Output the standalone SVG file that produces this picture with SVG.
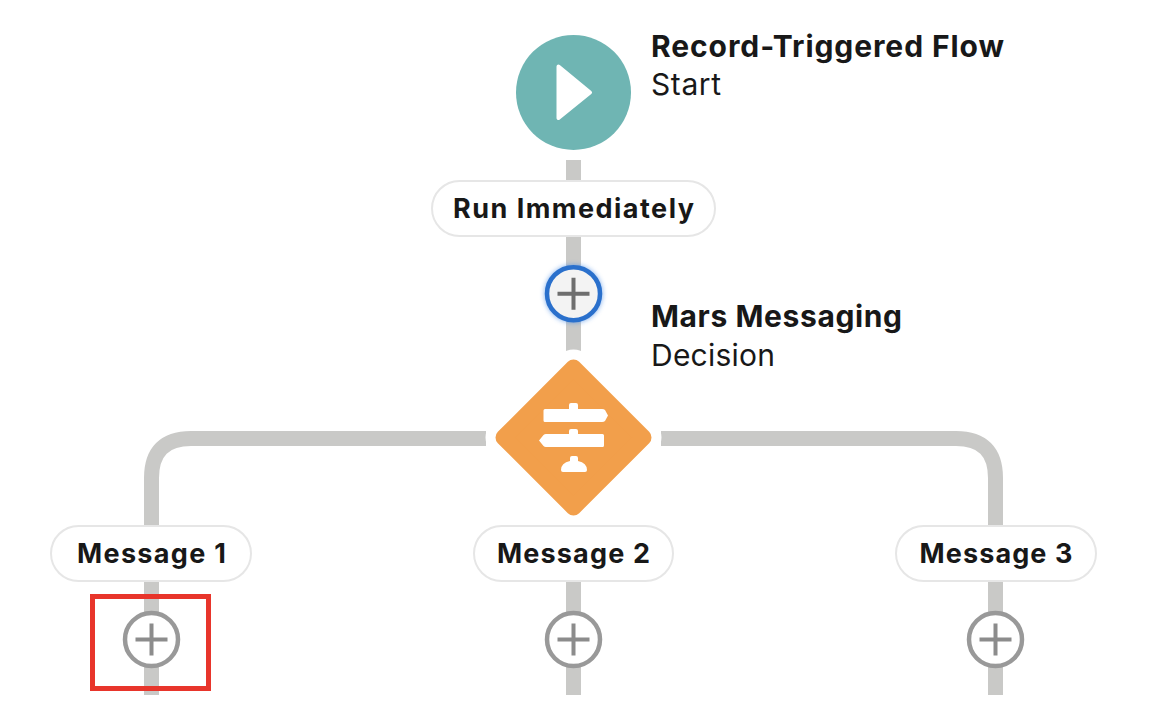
<svg xmlns="http://www.w3.org/2000/svg" width="1150" height="708" viewBox="0 0 1150 708">
<defs>
<filter id="glow" x="-30%" y="-30%" width="160%" height="160%"><feGaussianBlur stdDeviation="2.5"/></filter>
</defs>
<style>
text{font-family:"Inter","Liberation Sans",sans-serif;fill:#181818}
.t{font-size:30px;font-weight:700}
.s{font-size:30px;font-weight:400}
.l{font-size:27px;font-weight:700;text-anchor:middle}
.pill{fill:#fff;stroke:#e6e6e6;stroke-width:2}
.wire{fill:none;stroke:#c9c9c7;stroke-width:15}
.add{fill:#fff;stroke:#999;stroke-width:4.500}
.plus{fill:none;stroke:#8c8c8c;stroke-width:4}
</style>
<rect width="1150" height="708" fill="#fff"/>
<g id="connectors">
<path class="wire" d="M573.500 160V352"/>
<path class="wire" d="M486 438.500H191Q151.500 438.500 151.500 478V695"/>
<path class="wire" d="M661 438.500H956Q995.500 438.500 995.500 478V695"/>
<path class="wire" d="M573.500 580V695"/>
</g>
<g id="start">
<circle cx="573.500" cy="92.500" r="57.500" fill="#6fb5b3"/>
<path d="M558.500 66.500L590 92.500L558.500 118Z" fill="#fff" stroke="#fff" stroke-width="4" stroke-linejoin="round"/>
<text class="t" x="651" y="57" textLength="353">Record-Triggered Flow</text>
<text class="s" x="651" y="95" textLength="70">Start</text>
</g>
<g id="run-immediately">
<rect class="pill" x="432" y="181" width="283" height="55" rx="27.500"/>
<text class="l" x="573.500" y="218" textLength="241">Run Immediately</text>
</g>
<g id="add-main">
<circle cx="573.500" cy="293.700" r="29" fill="#4d8fe6" opacity=".7" filter="url(#glow)"/>
<circle cx="573.500" cy="293.700" r="26.500" fill="#f3f3f3" stroke="#2a70cc" stroke-width="4.500"/>
<path class="plus" style="stroke:#6e6e6e" d="M557.500 293.700H589.500M573.500 277.700V309.700"/>
</g>
<g id="decision">
<path d="M573.500 367.500L643.500 437.500L573.500 507.500L503.500 437.500Z" fill="#fff" stroke="#fff" stroke-width="36" stroke-linejoin="round"/>
<path d="M573.500 367.500L643.500 437.500L573.500 507.500L503.500 437.500Z" fill="#f29f4b" stroke="#f29f4b" stroke-width="16" stroke-linejoin="round"/>
<path fill="#fff" d="M569 409V405Q569 403 571 403H576Q578 403 578 405V409H602Q604 409 605 410L608 415.500L605 421Q604 422 602 422H545Q543.500 422 543.500 420.500V410.500Q543.500 409 545 409Z"/>
<path fill="#fff" d="M569 434V431Q569 429 571 429H576Q578 429 578 431V434H602.500Q604 434 604 435.500V445.500Q604 447 602.500 447H546Q544.500 447 543.500 446L539 440.500L543.500 435Q544.500 434 546 434Z"/>
<path fill="#fff" d="M570 458Q570 456 572 456H576Q578 456 578 458V461Q587 463 587 470Q587 472 585 472H563Q561 472 561 470Q561 463 570 461Z"/>
<text class="t" x="651" y="327" textLength="251">Mars Messaging</text>
<text class="s" x="651" y="366" textLength="124">Decision</text>
</g>
<g id="message-1">
<rect class="pill" x="51" y="526" width="200" height="55" rx="27.500"/>
<text class="l" x="151.500" y="563" textLength="149">Message 1</text>
<circle class="add" cx="151.500" cy="639.500" r="26.500"/>
<path class="plus" d="M135.500 639.500H167.500M151.500 623.500V655.500"/>
</g>
<g id="message-2">
<rect class="pill" x="474" y="526" width="199" height="55" rx="27.500"/>
<text class="l" x="573.500" y="563" textLength="153">Message 2</text>
<circle class="add" cx="573.500" cy="639.500" r="26.500"/>
<path class="plus" d="M557.500 639.500H589.500M573.500 623.500V655.500"/>
</g>
<g id="message-3">
<rect class="pill" x="896" y="526" width="200" height="55" rx="27.500"/>
<text class="l" x="996" y="563" textLength="153">Message 3</text>
<circle class="add" cx="995.500" cy="639.500" r="26.500"/>
<path class="plus" d="M979.500 639.500H1011.500M995.500 623.500V655.500"/>
</g>
<rect id="highlight" x="92.500" y="596.500" width="116" height="92" fill="none" stroke="#e8352b" stroke-width="5"/>
</svg>
